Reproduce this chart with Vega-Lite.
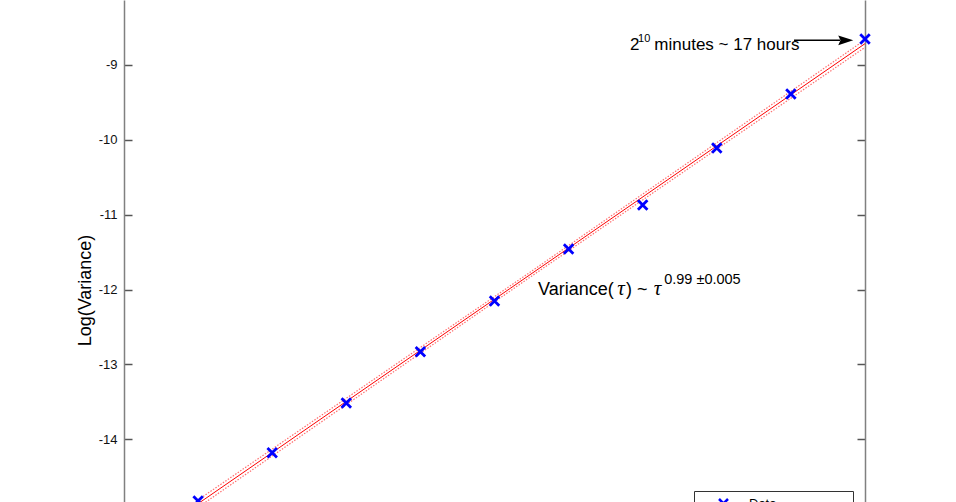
{
  "$schema": "https://vega.github.io/schema/vega-lite/v6.json",
  "description": "Log(Variance) against log2 of tau, with linear fit",
  "width": 741,
  "height": 502,
  "autosize": {"type": "none"},
  "padding": {"left": 124, "top": 0, "right": 91, "bottom": 0},
  "background": "white",
  "datasets": {
    "points": [
      {"x": 1, "y": -14.824, "series": "Data"},
      {"x": 2, "y": -14.179, "series": "Data"},
      {"x": 3, "y": -13.515, "series": "Data"},
      {"x": 4, "y": -12.83, "series": "Data"},
      {"x": 5, "y": -12.153, "series": "Data"},
      {"x": 6, "y": -11.458, "series": "Data"},
      {"x": 7, "y": -10.87, "series": "Data"},
      {"x": 8, "y": -10.109, "series": "Data"},
      {"x": 9, "y": -9.387, "series": "Data"},
      {"x": 10, "y": -8.653, "series": "Data"}
    ],
    "fit": [
      {"x": 1, "y": -14.86},
      {"x": 10, "y": -8.715}
    ],
    "bounds": [
      {"x": 1, "y": -14.81, "series": "upper"},
      {"x": 5.5, "y": -11.755, "series": "upper"},
      {"x": 10, "y": -8.665, "series": "upper"},
      {"x": 1, "y": -14.91, "series": "lower"},
      {"x": 5.5, "y": -11.821, "series": "lower"},
      {"x": 10, "y": -8.765, "series": "lower"}
    ],
    "arrow": [{"x": 9.042, "x2": 9.663, "y": -8.67}],
    "head": [{"x": 9.74, "y": -8.67}],
    "note_main": [
      {"x": 6.829, "y": -8.8, "text": "2"},
      {"x": 7.157, "y": -8.8, "text": "minutes ~ 17 hours"}
    ],
    "note_sup": [{"x": 6.937, "y": -8.692, "text": "10"}],
    "law_sans": [
      {"x": 5.587, "y": -12.072, "text": "Variance("},
      {"x": 6.775, "y": -12.072, "text": ") ~"}
    ],
    "law_tau": [
      {"x": 6.655, "y": -12.072, "text": "τ"},
      {"x": 7.15, "y": -12.072, "text": "τ"}
    ],
    "law_sup": [{"x": 7.29, "y": -11.929, "text": "0.99 ±0.005"}]
  },
  "encoding": {
    "x": {
      "field": "x",
      "type": "quantitative",
      "scale": {"domain": [0, 10], "nice": false, "zero": false},
      "axis": null
    },
    "y": {
      "field": "y",
      "type": "quantitative",
      "scale": {"domain": [-14.838, -8.132], "nice": false, "zero": false},
      "axis": null
    }
  },
  "layer": [
    {
      "data": {"name": "bounds"},
      "mark": {"type": "line", "color": "#ff6f6f", "strokeWidth": 1.2, "strokeDash": [1.5, 1.5]},
      "encoding": {
        "y": {
          "field": "y",
          "type": "quantitative",
          "scale": {"domain": [-14.838, -8.132], "nice": false, "zero": false},
          "axis": {
            "orient": "left",
            "values": [-14, -13, -12, -11, -10, -9],
            "labelExpr": "'' + datum.value",
            "title": "Log(Variance)",
            "titleFont": "Liberation Sans",
            "titleFontSize": 18,
            "titleFontWeight": "normal",
            "titleColor": "#000000",
            "titleX": -39,
            "titleY": 290,
            "titleAngle": -90,
            "titleAlign": "center",
            "titleBaseline": "middle",
            "labelFont": "Liberation Sans",
            "labelFontSize": 13,
            "labelColor": "#111111",
            "labelPadding": 15,
            "tickSize": -8,
            "tickWidth": 1.5,
            "tickColor": "#555555",
            "domainColor": "#808080",
            "domainWidth": 1.5,
            "grid": false
          }
        },
        "detail": {"field": "series", "type": "nominal"}
      }
    },
    {
      "data": {"name": "fit"},
      "mark": {"type": "line", "color": "#ff0000", "strokeWidth": 1},
      "encoding": {
        "y": {
          "field": "y",
          "type": "quantitative",
          "scale": {"domain": [-14.838, -8.132], "nice": false, "zero": false},
          "axis": {
            "orient": "right",
            "values": [-14, -13, -12, -11, -10, -9],
            "labels": false,
            "title": null,
            "tickSize": -8,
            "tickWidth": 1.5,
            "tickColor": "#555555",
            "domainColor": "#808080",
            "domainWidth": 1.5,
            "grid": false
          }
        }
      }
    },
    {
      "data": {"name": "points"},
      "mark": {
        "type": "point",
        "shape": "M-1,-1L1,1M-1,1L1,-1",
        "filled": false,
        "size": 90,
        "strokeWidth": 2.8,
        "opacity": 1
      },
      "encoding": {
        "color": {
          "field": "series",
          "type": "nominal",
          "scale": {"range": ["#0000ff"]},
          "legend": {
            "orient": "none",
            "legendX": 570,
            "legendY": 491,
            "title": null,
            "strokeColor": "#333333",
            "fillColor": "#ffffff",
            "padding": 6,
            "symbolType": "M-1,-1L1,1M-1,1L1,-1",
            "symbolSize": 81,
            "symbolStrokeWidth": 2.5,
            "symbolOffset": 17,
            "labelOffset": 19,
            "labelLimit": 300,
            "labelFont": "Liberation Sans",
            "labelFontSize": 13,
            "labelColor": "#000000",
            "labelExpr": "datum.label + '\u2800\u2800\u2800\u2800\u2800\u2800\u2800'"
          }
        }
      }
    },
    {
      "data": {"name": "arrow"},
      "mark": {"type": "rule", "color": "#000000", "strokeWidth": 1.3},
      "encoding": {"x2": {"field": "x2"}}
    },
    {
      "data": {"name": "head"},
      "mark": {
        "type": "point",
        "shape": "M-1,-0.65L1,0L-1,0.65L-0.7,0Z",
        "filled": true,
        "size": 225,
        "color": "#000000",
        "opacity": 1
      }
    },
    {
      "data": {"name": "note_main"},
      "mark": {"type": "text", "align": "left", "baseline": "alphabetic", "font": "Liberation Sans", "fontSize": 17, "color": "#000000"},
      "encoding": {"text": {"field": "text"}}
    },
    {
      "data": {"name": "note_sup"},
      "mark": {"type": "text", "align": "left", "baseline": "alphabetic", "font": "Liberation Sans", "fontSize": 11, "color": "#000000"},
      "encoding": {"text": {"field": "text"}}
    },
    {
      "data": {"name": "law_sans"},
      "mark": {"type": "text", "align": "left", "baseline": "alphabetic", "font": "Liberation Sans", "fontSize": 18, "color": "#000000"},
      "encoding": {"text": {"field": "text"}}
    },
    {
      "data": {"name": "law_tau"},
      "mark": {"type": "text", "align": "left", "baseline": "alphabetic", "font": "Liberation Serif", "fontStyle": "italic", "fontSize": 21, "color": "#000000"},
      "encoding": {"text": {"field": "text"}}
    },
    {
      "data": {"name": "law_sup"},
      "mark": {"type": "text", "align": "left", "baseline": "alphabetic", "font": "Liberation Sans", "fontSize": 14.5, "color": "#000000"},
      "encoding": {"text": {"field": "text"}}
    }
  ],
  "resolve": {"axis": {"y": "independent"}},
  "config": {
    "view": {"stroke": null},
    "font": "Liberation Sans"
  }
}
